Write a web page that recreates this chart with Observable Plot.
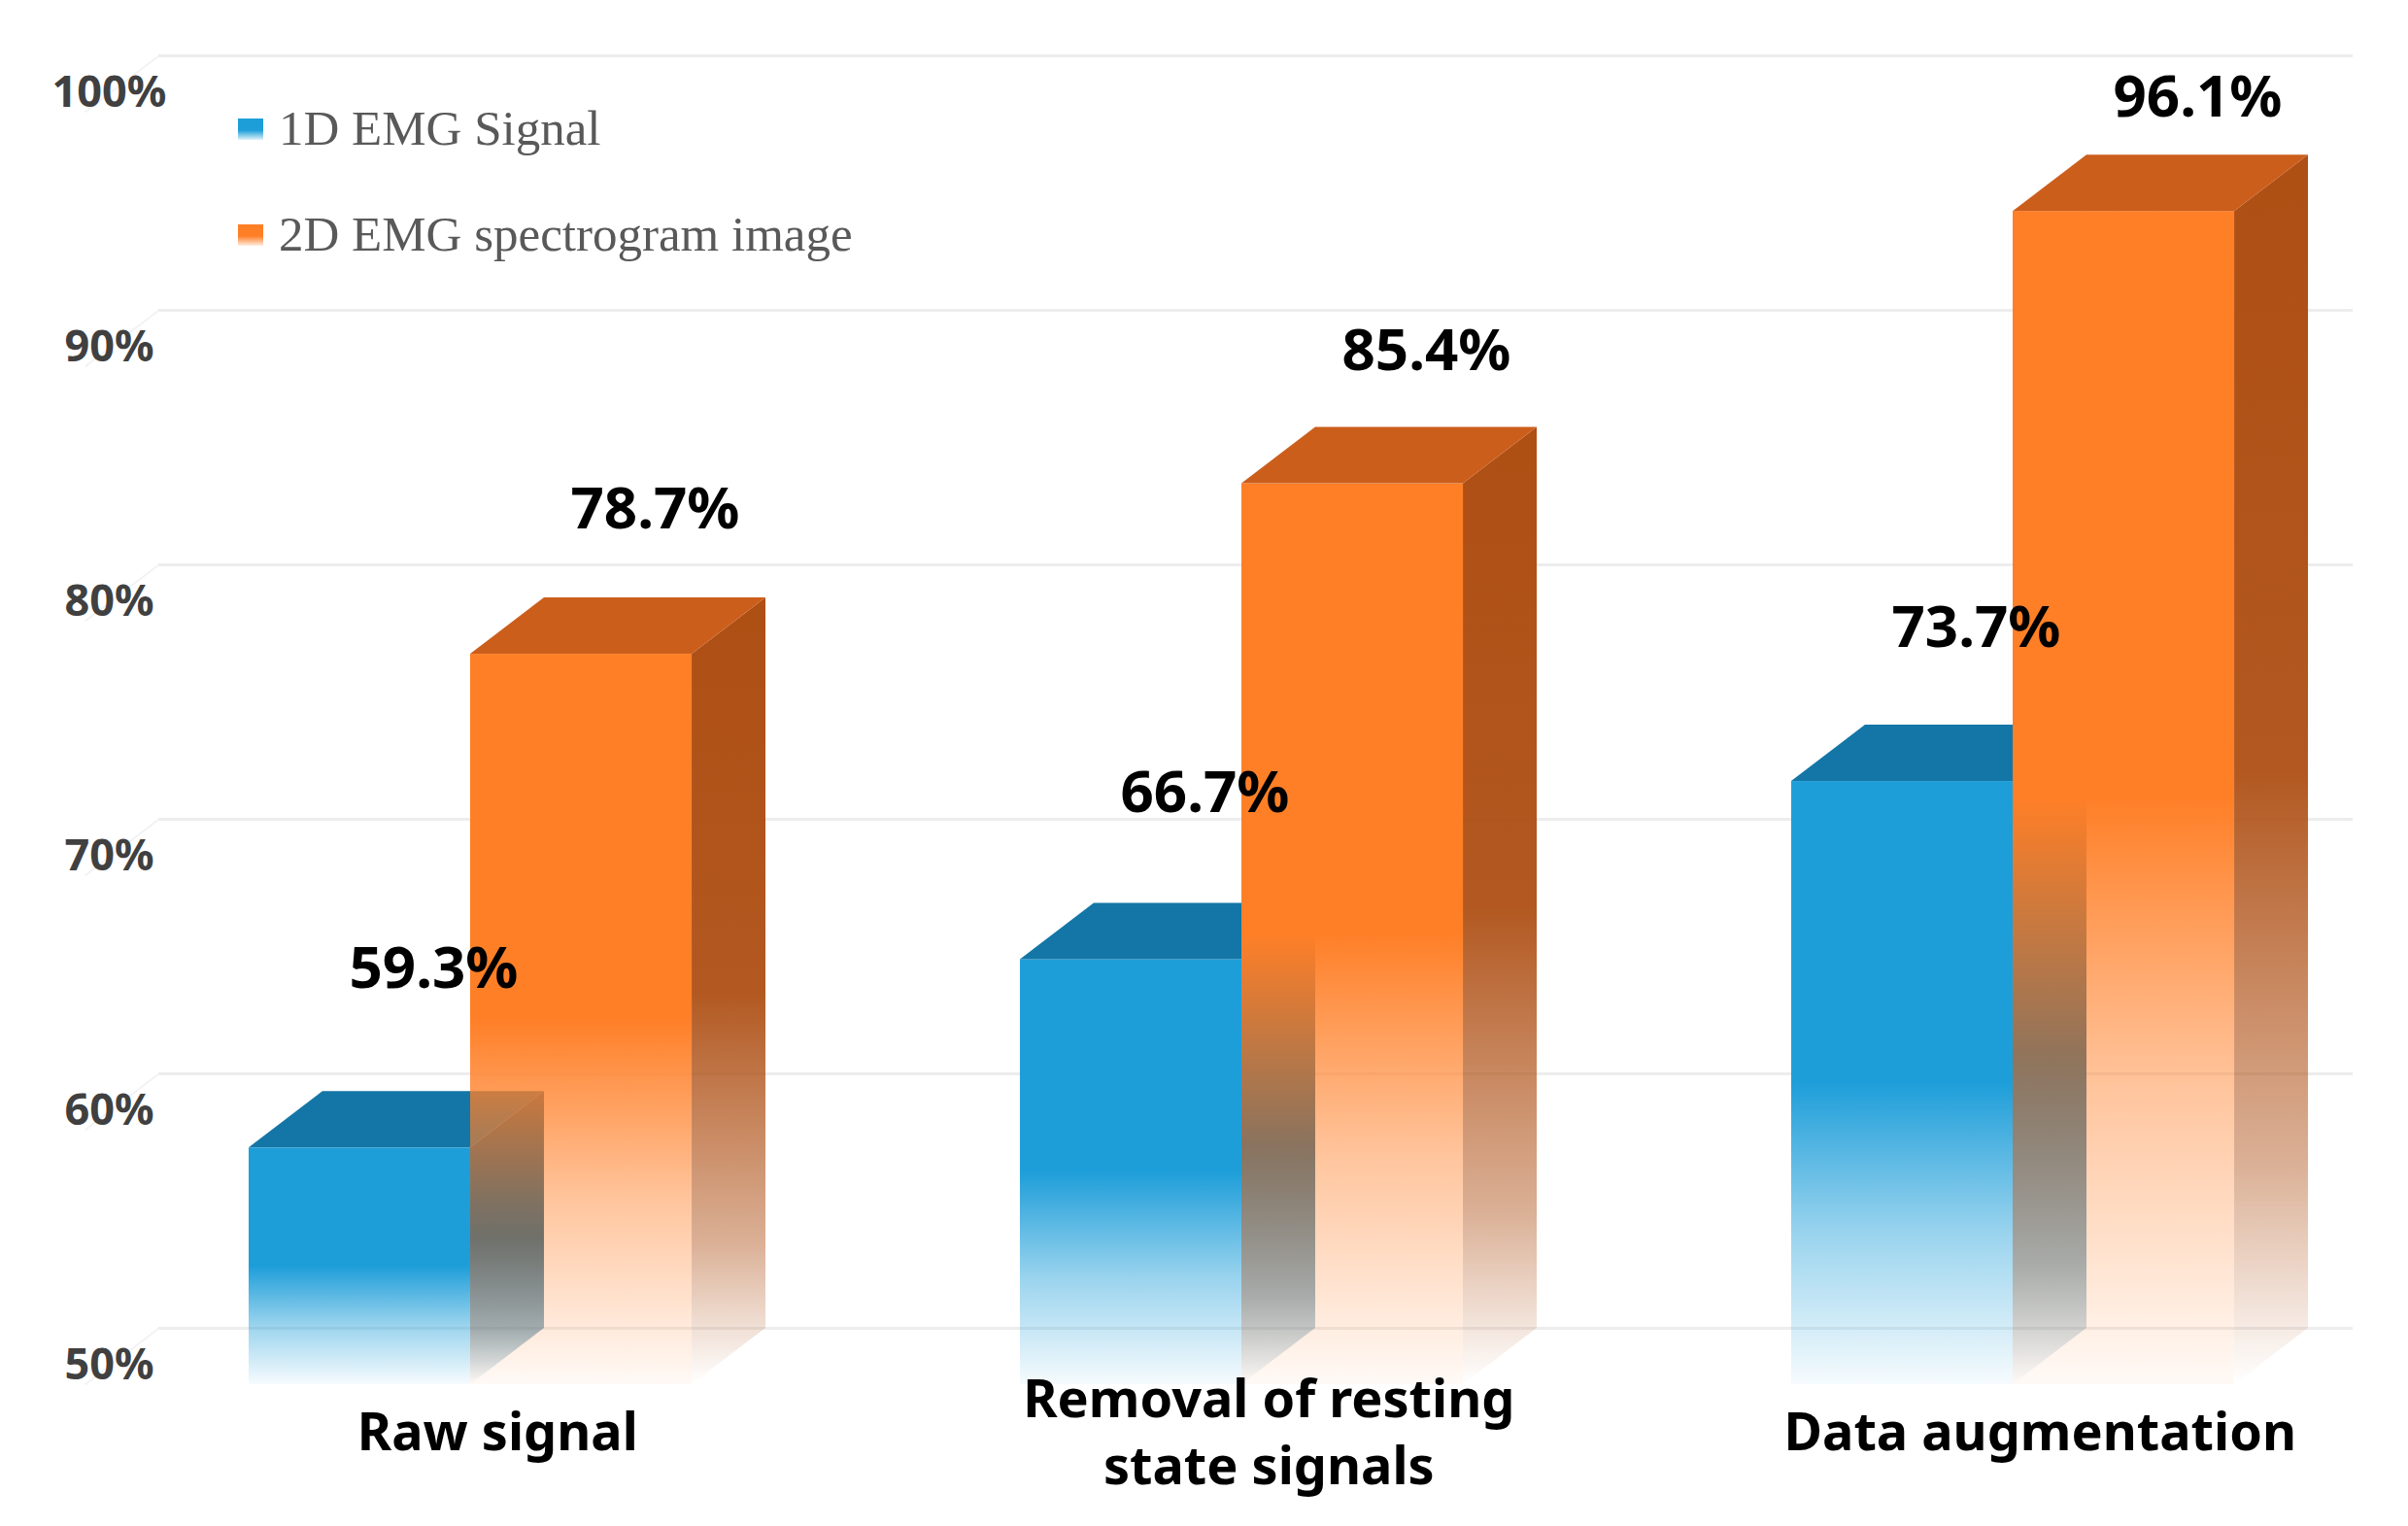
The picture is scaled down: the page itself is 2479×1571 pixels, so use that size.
<!DOCTYPE html>
<html><head><meta charset="utf-8">
<script src="https://cdn.jsdelivr.net/npm/d3@7"></script>
<script src="https://cdn.jsdelivr.net/npm/@observablehq/plot@0.6"></script>
<style>
html,body{margin:0;padding:0;background:#fff;}
#wrap{position:relative;width:2479px;height:1571px;overflow:hidden;}
.leg{position:absolute;left:245px;font-family:"Liberation Serif",serif;font-size:51px;color:#595959;display:flex;align-items:center;line-height:51px;white-space:nowrap;}
.sw{width:26px;height:22px;margin-right:16px;}
</style></head><body><div id="wrap"></div>
<script>
// ---- data ----
const categories = ["Raw signal", "Removal of resting\nstate signals", "Data augmentation"];
const emg1D = [59.3, 66.7, 73.7];
const emg2D = [78.7, 85.4, 96.1];
const seriesNames = ["1D EMG Signal", "2D EMG spectrogram image"];
const yTicks = [50, 60, 70, 80, 90, 100];

// ---- 3D geometry (in scale units) ----
const W = 0.2872;   // bar width (x units, one group = 1)
const DX = 0.0957;  // depth offset in x
const DY = 2.214;   // depth offset in y (percentage points)
const frontCol = ["#1E9ED9", "#FF7F27"];
const sideCol = ["#10608C", "#AE4F14"];
const topCol = ["#1376A6", "#CC5E1C"];

const bars = categories.flatMap((cat, i) => [emg1D, emg2D].map((vals, s) => ({
  id: i + "-" + s, cat, i, s, value: vals[i], x0: i + 0.5 - W + s * W
})));
const sides = bars.flatMap(b => [
  {id: b.id, s: b.s, x: b.x0 + W, lo: 50, hi: b.value},
  {id: b.id, s: b.s, x: b.x0 + W + DX, lo: 50 + DY, hi: b.value + DY}
]);
const tops = bars.flatMap(b => [
  {id: b.id, s: b.s, y: b.value, a: b.x0, b: b.x0 + W},
  {id: b.id, s: b.s, y: b.value + DY, a: b.x0 + DX, b: b.x0 + W + DX}
]);
// labels sit slightly above bars, following the picture's perspective
const lift = v => 7.04 - 0.0698 * (v - 59.3);

const barMarks = [0, 1].flatMap(s => [
  Plot.areaY(sides.filter(d => d.s === s), {x: "x", y1: "lo", y2: "hi", z: "id", fill: `url(#side${s})`}),
  Plot.rect(bars.filter(d => d.s === s), {x1: "x0", x2: d => d.x0 + W, y1: 50, y2: "value", fill: `url(#front${s})`}),
  Plot.areaX(tops.filter(d => d.s === s), {y: "y", x1: "a", x2: "b", z: "id", fill: topCol[s]})
]);

const chart = Plot.plot({
  width: 2479, height: 1571,
  marginLeft: 87, marginRight: 10, marginTop: 115, marginBottom: 146,
  x: {type: "linear", domain: [0, 3], axis: null},
  y: {domain: [50, 100], axis: null},
  style: {background: "white", overflow: "visible"},
  marks: [
    Plot.ruleY(yTicks, {y: d => d + DY, x1: DX, x2: 2.941, stroke: "#EDEDED", strokeWidth: 3}),
    Plot.link(yTicks, {x1: 0, y1: d => d, x2: DX, y2: d => d + DY, stroke: "#F3F3F3", strokeWidth: 2}),
    Plot.text(yTicks, {y: d => d, frameAnchor: "left", dx: 25, dy: -20, textAnchor: "middle",
      text: d => d + "%", fontSize: 45, fontWeight: "bold", fill: "#404040", fontFamily: "Noto Sans"}),
    ...barMarks,
    Plot.text(bars, {x: d => d.x0 + W / 2 + DX, y: d => d.value + lift(d.value),
      text: d => d.value.toFixed(1) + "%", fontSize: 60, fontWeight: "bold", fill: "#000", fontFamily: "Noto Sans"}),
    Plot.text(categories, {x: (d, i) => i + 0.535, y: 50, dy: 46, lineAnchor: "middle", text: d => d,
      fontSize: 54, fontWeight: "bold", fill: "#000", lineHeight: 1.27, fontFamily: "Noto Sans"})
  ]
});

// gradients
const defs = d3.select(chart).insert("defs", ":first-child");
function grad(id, color, stops) {
  const g = defs.append("linearGradient").attr("id", id).attr("x1", 0).attr("y1", 0).attr("x2", 0).attr("y2", 1);
  stops.forEach(([o, op]) => g.append("stop").attr("offset", o).attr("stop-color", color).attr("stop-opacity", op));
}
[0, 1].forEach(s => {
  grad("front" + s, frontCol[s], [[0, 1], [0.5, 1], [0.75, 0.45], [1, 0.04]]);
  grad("side" + s, sideCol[s], [[0, 1], [0.5, 0.95], [0.82, 0.45], [1, 0.0]]);
});
const wrap = document.getElementById("wrap");
wrap.appendChild(chart);

// legend
const legTops = [107, 216];
seriesNames.forEach((name, s) => {
  const div = document.createElement("div");
  div.className = "leg";
  div.style.top = legTops[s] + "px";
  div.innerHTML = `<span class="sw" style="background:linear-gradient(${frontCol[s]} 55%, ${frontCol[s]}22)"></span><span>${name}</span>`;
  wrap.appendChild(div);
});
</script></body></html>
